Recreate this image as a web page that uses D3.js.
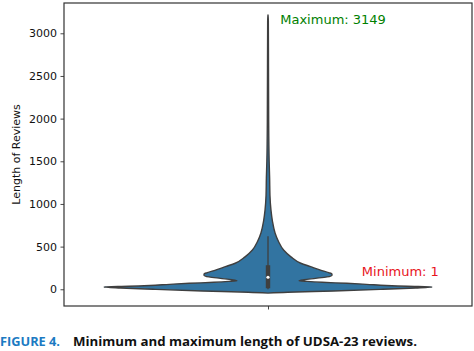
<!DOCTYPE html>
<html>
<head>
<meta charset="utf-8">
<script src="https://cdn.jsdelivr.net/npm/d3@7"></script>
<style>
  body { margin: 0; background: #fff; }
  svg { display: block; }
</style>
</head>
<body>
<div id="chart"></div>
<script>
// review lengths: violin outline (kernel density, max = 1)
var densityValues = [-45, -35, -20, 0, 15, 27, 35, 45, 58, 70, 82, 92, 100, 112, 128, 145, 165, 180, 195, 225, 265, 305, 380, 460, 560, 660, 800, 930, 1100, 1300, 1500, 2000, 2600, 3149, 3215];
var densityWidths = [0, 0.12, 0.4, 0.7, 0.9, 1.0, 0.85, 0.72, 0.6, 0.48, 0.33, 0.24, 0.19, 0.22, 0.29, 0.36, 0.39, 0.39, 0.37, 0.32, 0.26, 0.2, 0.14, 0.095, 0.064, 0.043, 0.027, 0.018, 0.012, 0.01, 0.007, 0.004, 0.003, 0.002, 0];

// inner box: whisker low, q1, median, q3, whisker high
var boxNames = ["whiskerLow", "q1", "median", "q3", "whiskerHigh"];
var boxValues = [1, 12, 141, 282, 620];

var yTicks = [0, 500, 1000, 1500, 2000, 2500, 3000];
var noteLabels = ["Maximum: 3149", "Minimum: 1"];
var noteValues = [3149, 1];

var width = 474, height = 351;
var margin = {top: 3, right: 2, bottom: 45, left: 64};

var svg = d3.select("#chart").append("svg")
    .attr("width", width)
    .attr("height", height)
    .style("font-family", "'DejaVu Sans', sans-serif");

var x = d3.scaleLinear()
    .domain([-0.5, 0.5])
    .range([margin.left, width - margin.right]);
var y = d3.scaleLinear()
    .domain([-196, 3355])
    .range([height - margin.bottom, margin.top]);
var w = d3.scaleLinear()
    .domain([0, 1])
    .range([0, 164]);

var cx = x(0);
var box = {};
boxNames.forEach(function(n, i) { box[n] = boxValues[i]; });

////////////
//violin  //
////////////
var profile = densityValues.map(function(v, i) { return {v: v, d: densityWidths[i]}; });
var area = d3.area()
    .y(function(d) { return y(d.v); })
    .x0(function(d) { return cx - w(d.d); })
    .x1(function(d) { return cx + w(d.d); })
    .curve(d3.curveMonotoneY);

svg.append("path")
    .datum(profile)
    .attr("d", area)
    .style("fill", "#3274a1")
    .style("stroke", "#3f3f3f")
    .style("stroke-width", 1.4)
    .style("stroke-linejoin", "round");

// whisker, box, median
svg.append("line")
    .attr("x1", cx).attr("x2", cx)
    .attr("y1", y(box.whiskerLow)).attr("y2", y(box.whiskerHigh))
    .style("stroke", "#3f3f3f")
    .style("stroke-width", 1.3);
svg.append("line")
    .attr("x1", cx).attr("x2", cx)
    .attr("y1", y(box.q1)).attr("y2", y(box.q3))
    .style("stroke", "#3f3f3f")
    .style("stroke-width", 4.4);
svg.append("circle")
    .attr("cx", cx)
    .attr("cy", y(box.median))
    .attr("r", 1.6)
    .style("fill", "#fff");

////////////
//axes    //
////////////
var yAxis = svg.append("g")
    .attr("transform", "translate(" + margin.left + ",0)")
    .call(d3.axisLeft(y).tickValues(yTicks).tickSize(3.5).tickPadding(3.5).tickFormat(d3.format("d")));
yAxis.select(".domain").remove();
yAxis.selectAll("line").style("stroke", "#333").style("stroke-width", 0.9);
yAxis.selectAll("text").style("font-size", "11px").style("fill", "#111")
    .style("font-family", "'DejaVu Sans', sans-serif");

var xAxis = svg.append("g")
    .attr("transform", "translate(0," + (height - margin.bottom) + ")")
    .call(d3.axisBottom(x).tickValues([0]).tickSize(3.5).tickFormat(""));
xAxis.select(".domain").remove();
xAxis.selectAll("line").style("stroke", "#333").style("stroke-width", 0.9);

svg.append("rect")
    .attr("x", margin.left)
    .attr("y", margin.top)
    .attr("width", width - margin.left - margin.right)
    .attr("height", height - margin.top - margin.bottom)
    .style("fill", "none")
    .style("stroke", "#333")
    .style("stroke-width", 1.2);

svg.append("text")
    .attr("transform", "translate(20," + ((margin.top + height - margin.bottom) / 2) + ") rotate(-90)")
    .attr("text-anchor", "middle")
    .style("font-size", "11px")
    .style("fill", "#111")
    .text("Length of Reviews");

// annotations
svg.append("text")
    .attr("x", x(0.03))
    .attr("y", y(noteValues[0]) + 3)
    .style("font-size", "13px")
    .style("fill", "#008000")
    .text(noteLabels[0]);
svg.append("text")
    .attr("x", x(0.23))
    .attr("y", y(noteValues[1]) - 13)
    .style("font-size", "13px")
    .style("fill", "#e8141c")
    .text(noteLabels[1]);

// caption
var cap = svg.append("g").style("font-family", "'Open Sans', 'Noto Sans', sans-serif")
    .style("font-weight", "bold").style("font-size", "13px");
cap.append("text")
    .attr("x", 0).attr("y", 346)
    .attr("textLength", 60).attr("lengthAdjust", "spacingAndGlyphs")
    .style("fill", "#1b7ac2")
    .text("FIGURE 4.");
cap.append("text")
    .attr("x", 73).attr("y", 346)
    .attr("textLength", 344).attr("lengthAdjust", "spacingAndGlyphs")
    .style("fill", "#111")
    .text("Minimum and maximum length of UDSA-23 reviews.");
</script>
</body>
</html>
